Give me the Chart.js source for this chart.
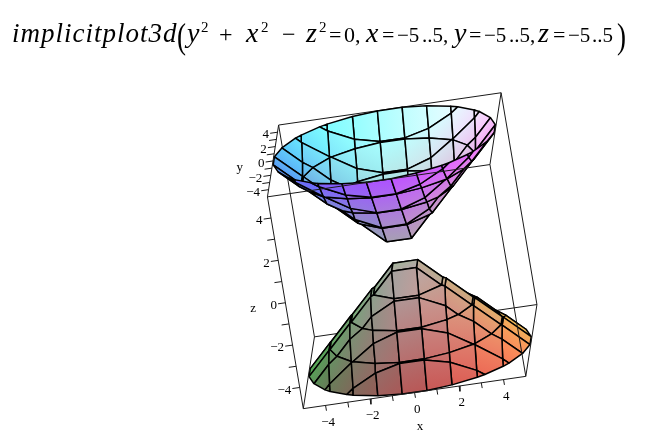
<!DOCTYPE html>
<html>
<head>
<meta charset="utf-8">
<script src="https://cdn.jsdelivr.net/npm/chart.js@4.4.1/dist/chart.umd.min.js"></script>
<style>
  html, body { margin: 0; padding: 0; background: #fff; }
  #wrap { position: relative; width: 664px; height: 437px; overflow: hidden; }
  #chartBox { position: absolute; left: 0; top: 0; width: 664px; height: 437px; }
  #title { position: absolute; left: 0; top: 0; width: 664px; height: 70px; font-family: "Liberation Serif", "Times New Roman", serif; color: #000; }
  #title span { position: absolute; white-space: nowrap; line-height: normal; }
  .lbl { position: absolute; font: 13px "Liberation Serif", "Times New Roman", serif; white-space: nowrap; line-height: 1; color: #000; }
</style>
</head>
<body>
<div id="wrap">
  <div id="chartBox"><canvas id="plot"></canvas></div>
  <div id="title"></div>
</div>
<script>
// sampling grid of implicitplot3d (10 points per axis over -5..5)
const gridLevels = [-5, -3.8889, -2.7778, -1.6667, -0.5556, 0.5556, 1.6667, 2.7778, 3.8889, 5];
const axisRange = [-5, 5];
const tickMarks = [-4, -3, -2, -1, 0, 1, 2, 3, 4];
const xTickLabels = [-4, -2, 0, 2, 4];
const yTickLabels = [-4, -2, 0, 2, 4];
const zTickLabels = [-4, -2, 0, 2, 4];

// surface: y^2 + x^2 - z^2 = 0
function f(x, y, z) { return y * y + x * x - z * z; }

// orthographic view of the box, in canvas pixels per unit
const view = { o: [402.2, 250.7], ex: [22.25, -3.23], ey: [1.115, -7.18], ez: [-3.585, -21.18] };

function project(p) {
  return {
    x: view.o[0] + p[0] * view.ex[0] + p[1] * view.ey[0] + p[2] * view.ez[0],
    y: view.o[1] + p[0] * view.ex[1] + p[1] * view.ey[1] + p[2] * view.ez[1]
  };
}

// direction towards the viewer
const rowX = [view.ex[0], view.ey[0], view.ez[0]];
const rowY = [view.ex[1], view.ey[1], view.ez[1]];
const toward = (() => {
  const c = [rowY[1] * rowX[2] - rowY[2] * rowX[1], rowY[2] * rowX[0] - rowY[0] * rowX[2], rowY[0] * rowX[1] - rowY[1] * rowX[0]];
  const l = Math.hypot(...c);
  return c.map(v => v / l);
})();
const depth = p => p[0] * toward[0] + p[1] * toward[1] + p[2] * toward[2];

// polygons of the surface inside one grid cell
const CORNERS = [0, 1, 2, 3, 4, 5, 6, 7].map(c => [c & 1, (c >> 1) & 1, (c >> 2) & 1]);
const FACES = [[0, 2, 6, 4], [1, 3, 7, 5], [0, 1, 5, 4], [2, 3, 7, 6], [0, 1, 3, 2], [4, 5, 7, 6]];

function cellPolygons(i, j, k) {
  const g = gridLevels;
  const P = CORNERS.map(([a, b, c]) => [g[i + a], g[j + b], g[k + c]]);
  const V = P.map(p => f(p[0], p[1], p[2]));
  const pos = V.map(v => v >= 0);
  const key = (a, b) => a < b ? a * 8 + b : b * 8 + a;
  const edgePt = {};
  const adj = {};
  for (const face of FACES) {
    const cr = [];
    for (let m = 0; m < 4; m++) {
      const a = face[m], b = face[(m + 1) % 4];
      if (pos[a] !== pos[b]) {
        const kk = key(a, b);
        if (!edgePt[kk]) {
          const t = V[a] / (V[a] - V[b]);
          edgePt[kk] = P[a].map((q, n) => q + t * (P[b][n] - q));
        }
        cr.push(kk);
      }
    }
    let pairs = [];
    if (cr.length === 2) pairs = [[cr[0], cr[1]]];
    else if (cr.length === 4) {
      const center = (V[face[0]] + V[face[1]] + V[face[2]] + V[face[3]]) / 4;
      if ((center >= 0) === pos[face[0]]) pairs = [[cr[0], cr[1]], [cr[2], cr[3]]];
      else pairs = [[cr[3], cr[0]], [cr[1], cr[2]]];
    }
    for (const [p, q] of pairs) {
      (adj[p] = adj[p] || []).push(q);
      (adj[q] = adj[q] || []).push(p);
    }
  }
  const loops = [];
  const used = new Set();
  for (const start of Object.keys(adj).map(Number)) {
    if (used.has(start)) continue;
    const loop = [];
    let prev = -1, cur = start;
    while (!used.has(cur)) {
      used.add(cur);
      loop.push(edgePt[cur]);
      const nb = adj[cur];
      const next = nb[0] !== prev ? nb[0] : nb[1];
      prev = cur;
      cur = next;
    }
    if (loop.length >= 3) loops.push(loop);
  }
  return loops;
}

const polys = [];
for (let i = 0; i < gridLevels.length - 1; i++)
  for (let j = 0; j < gridLevels.length - 1; j++)
    for (let k = 0; k < gridLevels.length - 1; k++)
      for (const loop of cellPolygons(i, j, k)) polys.push(loop);

// xyz colouring with a little shading
function vertexColor(p) {
  const span = axisRange[1] - axisRange[0];
  const base = p.map(v => (v - axisRange[0]) / span);
  const nrm = [p[0], p[1], -p[2]];
  const l = Math.hypot(...nrm) || 1;
  const lam = Math.abs(depth(nrm) / l);
  const shade = 0.9 + 0.12 * lam;
  return base.map(b => Math.max(0, Math.min(255, (0.34 + 0.73 * b) * shade * 255)));
}
const rgb = c => `rgb(${c.map(v => Math.round(Math.max(0, Math.min(255, v)))).join(',')})`;

// linear gradient that best follows the vertex colours of a piece
function pieceFill(loop) {
  const s = loop.map(project);
  const cols = loop.map(vertexColor);
  const n = s.length;
  const mx = s.reduce((a, p) => a + p.x, 0) / n, my = s.reduce((a, p) => a + p.y, 0) / n;
  const mc = [0, 1, 2].map(ch => cols.reduce((a, c) => a + c[ch], 0) / n);
  let sxx = 0, sxy = 0, syy = 0;
  const bx = [0, 0, 0], by = [0, 0, 0];
  s.forEach((p, i) => {
    const dx = p.x - mx, dy = p.y - my;
    sxx += dx * dx; sxy += dx * dy; syy += dy * dy;
    for (let ch = 0; ch < 3; ch++) { bx[ch] += dx * (cols[i][ch] - mc[ch]); by[ch] += dy * (cols[i][ch] - mc[ch]); }
  });
  const det = sxx * syy - sxy * sxy;
  if (Math.abs(det) < 1e-6) return { solid: rgb(mc) };
  const grads = [0, 1, 2].map(ch => [(syy * bx[ch] - sxy * by[ch]) / det, (sxx * by[ch] - sxy * bx[ch]) / det]);
  let a = 0, b = 0, c = 0;
  grads.forEach(([gx, gy]) => { a += gx * gx; b += gx * gy; c += gy * gy; });
  const ang = 0.5 * Math.atan2(2 * b, a - c);
  const ux = Math.cos(ang), uy = Math.sin(ang);
  const ts = s.map(p => (p.x - mx) * ux + (p.y - my) * uy);
  const t0 = Math.min(...ts), t1 = Math.max(...ts);
  if (!(t1 - t0 > 0.5)) return { solid: rgb(mc) };
  const colAt = t => mc.map((m, ch) => m + (grads[ch][0] * ux + grads[ch][1] * uy) * t);
  return {
    from: { x: mx + ux * t0, y: my + uy * t0 }, to: { x: mx + ux * t1, y: my + uy * t1 },
    c0: rgb(colAt(t0)), c1: rgb(colAt(t1)), solid: rgb(mc)
  };
}

const drawList = [];   // in painting order

// box
const lo = axisRange[0], hi = axisRange[1];
const boxEdges = [
  [[lo, lo, lo], [hi, lo, lo]], [[lo, lo, hi], [hi, lo, hi]], [[lo, hi, lo], [hi, hi, lo]], [[lo, hi, hi], [hi, hi, hi]],
  [[lo, lo, lo], [lo, hi, lo]], [[hi, lo, lo], [hi, hi, lo]], [[lo, lo, hi], [lo, hi, hi]], [[hi, lo, hi], [hi, hi, hi]],
  [[lo, lo, lo], [lo, lo, hi]], [[hi, lo, lo], [hi, lo, hi]], [[lo, hi, lo], [lo, hi, hi]], [[hi, hi, lo], [hi, hi, hi]]
];
const lineSet = (pts, w) => ({
  data: pts.map(project), showLine: true, fill: false, borderColor: '#1a1a1a', borderWidth: w,
  pointRadius: 0, tension: 0
});
const isBack = e => e[0][1] === hi && e[1][1] === hi;
boxEdges.filter(isBack).forEach(e => drawList.push(lineSet(e, 1)));

// surface pieces, far to near
polys
  .map(loop => {
    const c = [0, 1, 2].map(n => loop.reduce((s, p) => s + p[n], 0) / loop.length);
    return { loop, d: depth(c) };
  })
  .sort((a, b) => a.d - b.d)
  .forEach(({ loop }) => {
    const pf = pieceFill(loop);
    drawList.push({
      data: loop.concat([loop[0]]).map(project),
      showLine: true,
      fill: 'shape',
      backgroundColor: (ctx) => {
        if (!pf.from) return pf.solid;
        const sx = ctx.chart.scales.x, sy = ctx.chart.scales.y;
        if (!sx || !sy) return pf.solid;
        const px = [sx.getPixelForValue(pf.from.x), sy.getPixelForValue(pf.from.y),
                    sx.getPixelForValue(pf.to.x), sy.getPixelForValue(pf.to.y)];
        if (!px.every(Number.isFinite)) return pf.solid;
        const gr = ctx.chart.ctx.createLinearGradient(px[0], px[1], px[2], px[3]);
        gr.addColorStop(0, pf.c0);
        gr.addColorStop(1, pf.c1);
        return gr;
      },
      borderColor: '#000',
      borderWidth: 1.5,
      borderJoinStyle: 'round',
      pointRadius: 0,
      tension: 0
    });
  });

boxEdges.filter(e => !isBack(e)).forEach(e => drawList.push(lineSet(e, 1)));

// ticks: x on (y=lo, z=lo), z on (x=lo, y=lo), y on (x=lo, z=hi)
tickMarks.forEach(t => {
  drawList.push(lineSet([[t, lo, lo], [t, lo, lo - 0.25]], 1));
  drawList.push(lineSet([[lo, lo, t], [lo - 0.33, lo, t]], 1));
  drawList.push(lineSet([[lo, t, hi], [lo - 0.33, t, hi]], 1));
});

drawList.forEach((ds, idx) => { ds.order = drawList.length - idx; });

const chart = new Chart(document.getElementById('plot'), {
  type: 'line',
  data: { datasets: drawList },
  options: {
    responsive: true,
    maintainAspectRatio: false,
    animation: false,
    events: [],
    layout: { padding: 0 },
    plugins: { legend: { display: false }, tooltip: { enabled: false }, title: { display: false } },
    scales: {
      x: { type: 'linear', min: 0, max: 664, display: false },
      y: { type: 'linear', min: 0, max: 437, reverse: true, display: false }
    }
  }
});

// tick labels and axis names
const wrap = document.getElementById('wrap');
function addLabel(text, p, align) {
  const q = project(p);
  const el = document.createElement('div');
  el.className = 'lbl';
  el.textContent = text;
  el.style.left = chart.scales.x.getPixelForValue(q.x) + 'px';
  el.style.top = chart.scales.y.getPixelForValue(q.y) + 'px';
  el.style.transform = align === 'right' ? 'translate(-100%,-50%)' : 'translate(-50%,-50%)';
  wrap.appendChild(el);
}
const fmt = v => v < 0 ? '\u2212' + Math.abs(v) : String(v);
xTickLabels.forEach(v => addLabel(fmt(v), [v, lo, lo - 0.72], 'center'));
zTickLabels.forEach(v => addLabel(fmt(v), [lo - 0.38, lo, v], 'right'));
yTickLabels.forEach(v => addLabel(fmt(v), [lo - 0.38, v, hi], 'right'));
addLabel('x', [0, lo, lo - 1.55], 'center');
addLabel('z', [lo - 1.45, lo, 0], 'center');
addLabel('y', [lo - 1.5, 0, hi], 'center');

// title, typeset piece by piece: [left, text, font size, italic, baseline]
const titlePieces = [
  [12, 'implicitplot3d', 27, true, 42], [177, '(', 36, false, 47],
  [187, 'y', 28, true, 42], [201, '2', 15, false, 32.5], [219, '+', 24, false, 42],
  [246, 'x', 28, true, 42], [261, '2', 15, false, 32.5], [282, '\u2212', 24, false, 42],
  [306, 'z', 28, true, 42], [319, '2', 15, false, 32.5], [329, '=', 22, false, 42],
  [344, '0,', 22, false, 42], [366, 'x', 28, true, 42], [382, '=', 22, false, 42],
  [397, '\u22125', 21, false, 42], [422, '..5,', 21, false, 42], [454, 'y', 28, true, 42],
  [469, '=', 22, false, 42], [484, '\u22125', 21, false, 42], [509, '..5,', 21, false, 42],
  [538, 'z', 28, true, 42], [553, '=', 22, false, 42], [568, '\u22125', 21, false, 42],
  [592, '..5', 21, false, 42], [617, ')', 36, false, 47]
];
const titleEl = document.getElementById('title');
titlePieces.forEach(([left, text, size, italic, base]) => {
  const sp = document.createElement('span');
  sp.textContent = text;
  sp.style.left = left + 'px';
  sp.style.fontSize = size + 'px';
  sp.style.top = (base - 0.891 * size) + 'px';
  if (italic) sp.style.fontStyle = 'italic';
  if (text === 'implicitplot3d') sp.style.letterSpacing = '1px';
  if (size === 36) { sp.style.transform = 'scaleX(0.75)'; sp.style.transformOrigin = 'left'; }
  titleEl.appendChild(sp);
});
</script>
</body>
</html>
